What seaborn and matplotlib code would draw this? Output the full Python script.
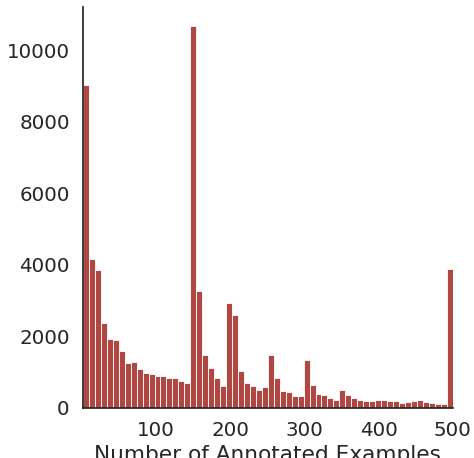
import numpy as np
import pandas as pd
import seaborn as sns
import matplotlib
matplotlib.use("Agg")
import matplotlib.pyplot as plt

counts = [9030, 4150, 3850, 2370, 1910, 1890, 1590, 1235, 1270, 1085, 975, 935, 880, 880, 840,
          815, 745, 675, 10680, 3250, 1485, 1115, 825, 595, 2930, 2580, 1020, 695, 612, 480,
          580, 1485, 815, 465, 440, 315, 315, 1345, 620, 390, 340, 270, 225, 480, 340, 270,
          225, 175, 175, 200, 220, 175, 175, 140, 160, 175, 200, 160, 130, 110, 110, 3870]
lo, hi = 1, 500

edges = np.linspace(lo, hi, len(counts) + 1)
centers = (edges[:-1] + edges[1:]) / 2
df = pd.DataFrame({"x": centers, "w": counts})

sns.set_theme(style="white", font_scale=1.3)
fig, ax = plt.subplots(figsize=(4.74, 4.58), dpi=100)
sns.histplot(data=df, x="x", weights="w", bins=list(edges), color="#a9332e", alpha=0.9,
             edgecolor="white", linewidth=0.6, ax=ax)
ax.set_xlim(lo, hi)
ax.set_xticks([100, 200, 300, 400, 500])
ax.set_yticks([0, 2000, 4000, 6000, 8000, 10000])
ax.set_xlabel("Number of Annotated Examples")
ax.set_ylabel("Number of Synsets")
sns.despine(ax=ax)
fig.subplots_adjust(left=0.175, right=0.955, bottom=0.11, top=0.985)
fig.savefig("out.png")
